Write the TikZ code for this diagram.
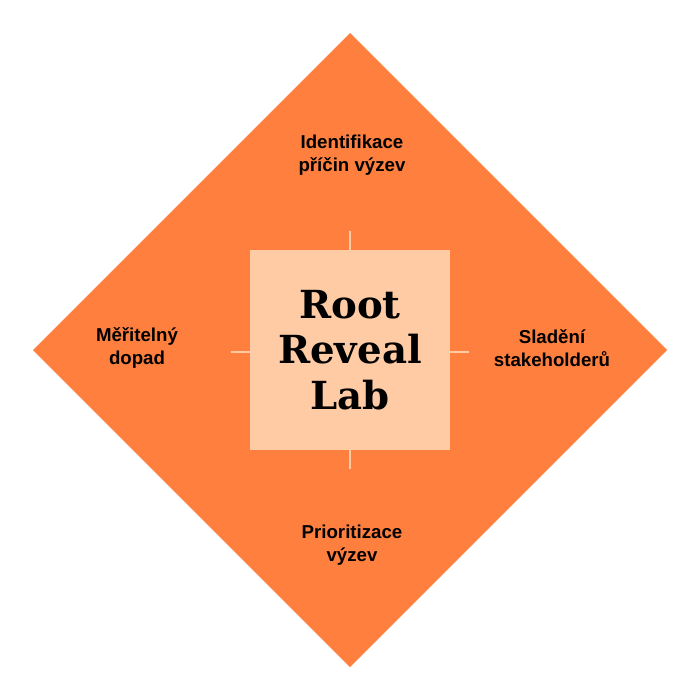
\documentclass[tikz,border=0pt]{standalone}
\usepackage{fontspec}
\setmainfont{Liberation Sans}
\newfontfamily\titlefont{DejaVu Serif}
\definecolor{orangeF}{HTML}{FF7F3E}
\definecolor{peach}{HTML}{FFCBA4}
\begin{document}
\begin{tikzpicture}[x=0.75pt,y=-0.75pt,
  lbl/.style={font=\fontsize{14pt}{17pt}\selectfont\bfseries,align=center,text=black},
  tick/.style={draw=peach,line width=2.2pt}]
\useasboundingbox (0,0) rectangle (700,700);
\fill[orangeF] (350,33) coordinate (T) -- (667,350) coordinate (R) -- (350,667) coordinate (B) -- (33,350) coordinate (L) -- cycle;
\node[fill=peach,minimum size=150pt,inner sep=0pt] (C) at (350,350) {};
\node[font=\titlefont\fontsize{29pt}{34pt}\selectfont\bfseries,align=center] (CT) at (350,350) {Root\\Reveal\\Lab};
\coordinate (tn) at (350,231); \coordinate (ts) at (350,469);
\coordinate (tw) at (231,352); \coordinate (te) at (469,352);
\draw[tick] (tn) -- (C.north);
\draw[tick] (ts) -- (C.south);
\draw[tick] (tw) -- (C.west |- tw);
\draw[tick] (te) -- (C.east |- te);
\node[lbl] (n1) at (352,155) {Identifikace\\příčin výzev};
\node[lbl] (n2) at (352,545) {Prioritizace\\výzev};
\node[lbl] (n3) at (137,348) {Měřitelný\\dopad};
\node[lbl] (n4) at (552,348) {Sladění\\stakeholderů};
\end{tikzpicture}
\end{document}
